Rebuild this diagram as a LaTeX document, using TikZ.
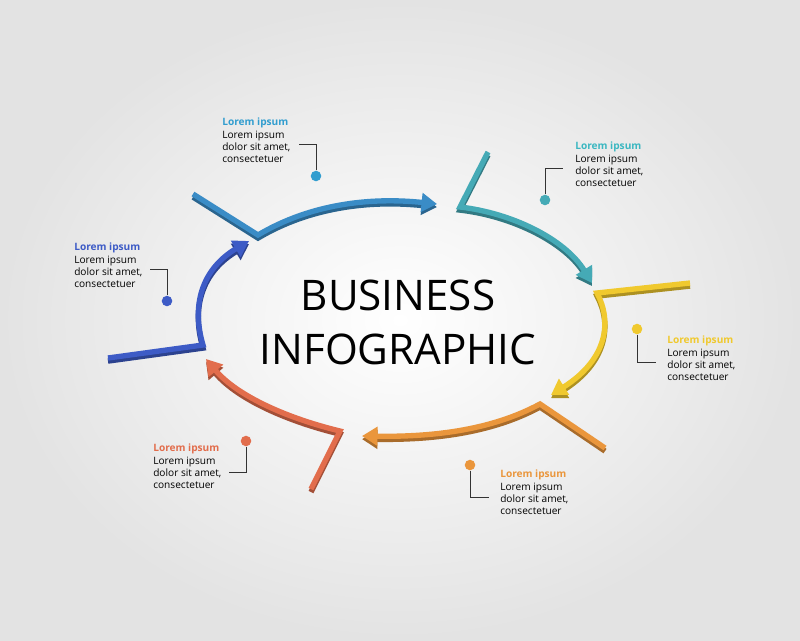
\documentclass[tikz,border=0pt]{standalone}
\usepackage{fontspec}
\setmainfont{Open Sans}
\usetikzlibrary{arrows.meta}
\definecolor{topblue}{HTML}{3A8CC6}
\definecolor{teal}{HTML}{45AAB6}
\definecolor{sun}{HTML}{F0C92E}
\definecolor{amber}{HTML}{EA963C}
\definecolor{coral}{HTML}{E26D4C}
\definecolor{royal}{HTML}{3D5BC6}
\tikzstyle{band} = [line width=3.8pt, line join=miter, -{Triangle[length=11pt,width=13pt]}]
\tikzstyle{note} = [anchor=north west, align=left, inner sep=0pt, font={\fontsize{7.2}{8.6}\selectfont}]
\tikzstyle{dot} = [circle, inner sep=0pt, minimum size=7.5pt]
\tikzstyle{lead} = [draw=black!80, line width=0.6pt]
\newcommand{\ribbon}[2]{%
  \draw[band, #1!72!black, yshift=-2.2pt] #2;
  \draw[band, #1] #2;
}

\begin{document}
\begin{tikzpicture}[x=0.025cm, y=-0.025cm]
        \useasboundingbox (0,0) rectangle (800,640);
        \shade[inner color=white, outer color=black!11] (0,0) rectangle (800,640);

        % ring of arrows
        \ribbon{topblue}{(193,194) -- (258,235) .. controls (310,204) and (370,197) .. (437,204)}
        \ribbon{teal}{(488,152) -- (460,207) .. controls (512,213) and (565,239) .. (592,283)}
        \ribbon{sun}{(690,283) -- (597,293) .. controls (612,321) and (608,359) .. (551,395)}
        \ribbon{amber}{(605,448) -- (540,404) .. controls (490,431) and (430,437) .. (362,436)}
        \ribbon{coral}{(311,489) -- (340,431) .. controls (290,419) and (238,397) .. (206,359)}
        \ribbon{royal}{(108,358) -- (203,345) .. controls (190,301) and (205,267) .. (249,241)}

        \node[align=center, font={\fontsize{30}{38.4}\selectfont}](title) at (398,322){BUSINESS\\INFOGRAPHIC};

        % notes
        \node[note](n1) at (222,118){\textcolor{topblue!85!cyan}{\textbf{Lorem ipsum}}\\Lorem ipsum\\dolor sit amet,\\consectetuer};
        \node[note](n2) at (575,142){\textcolor{teal!85!cyan}{\textbf{Lorem ipsum}}\\Lorem ipsum\\dolor sit amet,\\consectetuer};
        \node[note](n3) at (667,336){\textcolor{sun}{\textbf{Lorem ipsum}}\\Lorem ipsum\\dolor sit amet,\\consectetuer};
        \node[note](n4) at (500,470){\textcolor{amber}{\textbf{Lorem ipsum}}\\Lorem ipsum\\dolor sit amet,\\consectetuer};
        \node[note](n5) at (153,444){\textcolor{coral}{\textbf{Lorem ipsum}}\\Lorem ipsum\\dolor sit amet,\\consectetuer};
        \node[note](n6) at (74,243){\textcolor{royal}{\textbf{Lorem ipsum}}\\Lorem ipsum\\dolor sit amet,\\consectetuer};

        \node[dot, fill=topblue!85!cyan](d1) at (316,176){};
        \node[dot, fill=teal](d2) at (545,200){};
        \node[dot, fill=sun](d3) at (637,329){};
        \node[dot, fill=amber](d4) at (470,465){};
        \node[dot, fill=coral](d5) at (246,441){};
        \node[dot, fill=royal](d6) at (167,301){};

        \coordinate(e1) at (299,144);
        \coordinate(e2) at (563,168);
        \coordinate(e3) at (656,362);
        \coordinate(e4) at (489,497);
        \coordinate(e5) at (229,472);
        \coordinate(e6) at (150,269);
        \draw[lead](d1)|-(e1);
        \draw[lead](d2)|-(e2);
        \draw[lead](d3)|-(e3);
        \draw[lead](d4)|-(e4);
        \draw[lead](d5)|-(e5);
        \draw[lead](d6)|-(e6);
      \end{tikzpicture}
\end{document}
